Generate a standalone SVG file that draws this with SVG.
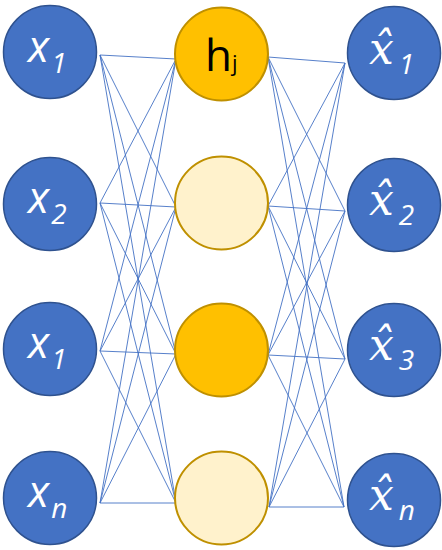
<svg xmlns="http://www.w3.org/2000/svg" width="442" height="550" viewBox="0 0 442 550">
<style>
.in{fill:#4472C4;stroke:#2F528F;stroke-width:1.5}
.hg{fill:#FFC000;stroke:#BF9000;stroke-width:2}
.hl{fill:#FFF2CC;stroke:#BF9000;stroke-width:2}
.cn line{stroke:#4472C4;stroke-width:0.9}
.lx{font-family:"Open Sans","Liberation Sans",sans-serif;font-style:italic;fill:#fff;font-size:44px}
.sb{font-family:"Open Sans","Liberation Sans",sans-serif;font-style:italic;fill:#fff;font-size:28px}
.hx{font-family:"DejaVu Serif","Liberation Serif",serif;font-style:italic;fill:#fff;font-size:44px}
.h{font-family:"Open Sans","Liberation Sans",sans-serif;fill:#000;font-size:44px}
.hs{font-family:"Open Sans","Liberation Sans",sans-serif;fill:#000;font-size:22px}
</style>
<g class="cn" id="connectors">
<line x1="100" y1="55" x2="176" y2="59"/><line x1="100" y1="55" x2="176" y2="207"/><line x1="100" y1="55" x2="176" y2="354"/><line x1="100" y1="55" x2="176" y2="503"/>
<line x1="100" y1="203" x2="176" y2="59"/><line x1="100" y1="203" x2="176" y2="207"/><line x1="100" y1="203" x2="176" y2="354"/><line x1="100" y1="203" x2="176" y2="503"/>
<line x1="100" y1="351" x2="176" y2="59"/><line x1="100" y1="351" x2="176" y2="207"/><line x1="100" y1="351" x2="176" y2="354"/><line x1="100" y1="351" x2="176" y2="503"/>
<line x1="100" y1="503" x2="176" y2="59"/><line x1="100" y1="503" x2="176" y2="207"/><line x1="100" y1="503" x2="176" y2="354"/><line x1="100" y1="503" x2="176" y2="503"/>
<line x1="268" y1="57" x2="345" y2="63"/><line x1="268" y1="57" x2="345" y2="211"/><line x1="268" y1="57" x2="345" y2="359"/><line x1="268" y1="57" x2="344" y2="507"/>
<line x1="268" y1="206" x2="345" y2="63"/><line x1="268" y1="206" x2="345" y2="211"/><line x1="268" y1="206" x2="345" y2="359"/><line x1="268" y1="206" x2="344" y2="507"/>
<line x1="268" y1="355" x2="345" y2="63"/><line x1="268" y1="355" x2="345" y2="211"/><line x1="268" y1="355" x2="345" y2="359"/><line x1="268" y1="355" x2="344" y2="507"/>
<line x1="269" y1="507" x2="345" y2="63"/><line x1="269" y1="507" x2="345" y2="211"/><line x1="269" y1="507" x2="345" y2="359"/><line x1="269" y1="507" x2="344" y2="507"/>
</g>
<g id="x1"><circle class="in" cx="50" cy="52" r="46.5"/><text class="lx" x="28" y="62">x<tspan class="sb" dx="2" dy="11">1</tspan></text></g>
<g id="x2"><circle class="in" cx="50" cy="204" r="46.5"/><text class="lx" x="28" y="213">x<tspan class="sb" dx="2" dy="11">2</tspan></text></g>
<g id="x3"><circle class="in" cx="50" cy="349" r="46.5"/><text class="lx" x="28" y="358">x<tspan class="sb" dx="2" dy="11">1</tspan></text></g>
<g id="xn"><circle class="in" cx="50" cy="498" r="46.5"/><text class="lx" x="28" y="507">x<tspan class="sb" dx="2" dy="11">n</tspan></text></g>
<g id="h1"><circle class="hg" cx="221.5" cy="54" r="46.5"/><text class="h" x="205" y="71">h<tspan class="hs">j</tspan></text></g>
<g id="h2"><circle class="hl" cx="221.5" cy="203" r="46.5"/></g>
<g id="h3"><circle class="hg" cx="221.5" cy="350" r="46.5"/></g>
<g id="h4"><circle class="hl" cx="221.5" cy="498" r="46.5"/></g>
<g id="y1"><circle class="in" cx="394" cy="53" r="46.5"/><text class="hx" x="369" y="64">x̂<tspan class="sb" dx="5" dy="10">1</tspan></text></g>
<g id="y2"><circle class="in" cx="394" cy="205" r="46.5"/><text class="hx" x="369" y="215">x̂<tspan class="sb" dx="5" dy="10">2</tspan></text></g>
<g id="y3"><circle class="in" cx="394" cy="350" r="46.5"/><text class="hx" x="369" y="360">x̂<tspan class="sb" dx="5" dy="10">3</tspan></text></g>
<g id="yn"><circle class="in" cx="394" cy="500" r="46.5"/><text class="hx" x="369" y="510">x̂<tspan class="sb" dx="5" dy="10">n</tspan></text></g>
</svg>
